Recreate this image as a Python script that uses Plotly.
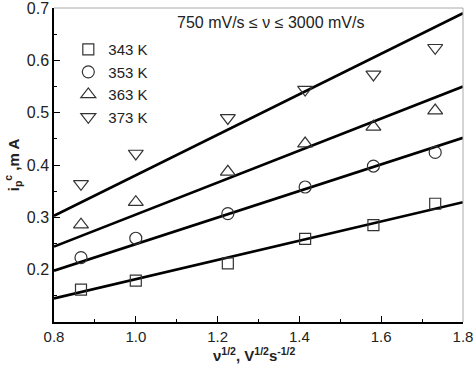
import plotly.graph_objects as go

# Scan rate square roots (V^1/2 s^-1/2)
x_vals = [0.866, 1.0, 1.225, 1.414, 1.581, 1.732]

labels = ["343 K", "353 K", "363 K", "373 K"]
y_343 = [0.162, 0.179, 0.212, 0.259, 0.285, 0.326]
y_353 = [0.223, 0.260, 0.307, 0.358, 0.398, 0.424]
y_363 = [0.286, 0.329, 0.387, 0.441, 0.473, 0.504]
y_373 = [0.364, 0.422, 0.490, 0.544, 0.573, 0.624]

# Fitted lines, values at x = 0.8 and x = 1.8
fit_x = [0.8, 1.8]
fit_343 = [0.145, 0.329]
fit_353 = [0.198, 0.452]
fit_363 = [0.244, 0.550]
fit_373 = [0.303, 0.690]

x_ticks = [0.8, 1.0, 1.2, 1.4, 1.6, 1.8]
y_ticks = [0.2, 0.3, 0.4, 0.5, 0.6, 0.7]

series = [y_343, y_353, y_363, y_373]
fits = [fit_343, fit_353, fit_363, fit_373]
symbols = ["square-open", "circle-open", "triangle-up-open", "triangle-down-open"]
sizes = [11, 12, 13, 13]

FONT = "Liberation Sans, Arial, sans-serif"
TXT = "#222222"

fig = go.Figure()
for f in fits:
    fig.add_trace(go.Scatter(x=fit_x, y=f, mode="lines",
                             line=dict(color="black", width=2.6),
                             showlegend=False, hoverinfo="skip"))
for lab, ys, sym, sz in zip(labels, series, symbols, sizes):
    fig.add_trace(go.Scatter(x=x_vals, y=ys, mode="markers", name=lab,
                             marker=dict(symbol=sym, size=sz, color="#333333",
                                         line=dict(color="#333333", width=1.2))))

fig.update_layout(
    width=474, height=372,
    margin=dict(l=54, r=11, t=8, b=50, autoexpand=False),
    paper_bgcolor="white", plot_bgcolor="white",
    font=dict(family=FONT, size=16, color=TXT),
    legend=dict(x=0.035, y=0.92, xanchor="left", yanchor="top",
                bgcolor="rgba(0,0,0,0)", font=dict(size=15, family=FONT, color=TXT),
                tracegroupgap=0, itemsizing="trace"),
    annotations=[
        dict(text="750 mV/s ≤ ν ≤ 3000 mV/s", x=0.53, y=0.953,
             xref="paper", yref="paper", xanchor="center", yanchor="middle",
             showarrow=False, font=dict(size=16, family=FONT, color=TXT)),
        dict(text="<b>ν<sup>1/2</sup>, V<sup>1/2</sup>s<sup>-1/2</sup></b>",
             x=0.49, y=-0.105, xref="paper", yref="paper",
             xanchor="center", yanchor="middle", showarrow=False,
             font=dict(size=15, family=FONT, color=TXT)),
    ],
    shapes=[
        dict(type="line", xref="paper", yref="paper", x0=0, x1=1, y0=1, y1=1,
             line=dict(color="#aaaaaa", width=1)),
        dict(type="line", xref="paper", yref="paper", x0=1, x1=1, y0=0, y1=1,
             line=dict(color="#aaaaaa", width=1)),
    ],
)

fig.update_xaxes(range=[0.8, 1.8], tickvals=x_ticks,
                 ticktext=[f"{v:.1f}" for v in x_ticks],
                 automargin=False, ticklabeloverflow="allow",
                 showgrid=False, zeroline=False, showline=True,
                 linecolor="black", linewidth=1.5,
                 ticks="inside", ticklen=6, tickwidth=1.2, tickcolor="black",
                 minor=dict(dtick=0.1, ticks="inside", ticklen=3, tickcolor="black"),
                 tickfont=dict(size=15, family=FONT, color=TXT))
fig.update_yaxes(range=[0.1, 0.7], tickvals=y_ticks,
                 ticktext=[f"{v:.1f}" for v in y_ticks],
                 automargin=False, ticklabeloverflow="allow",
                 showgrid=False, zeroline=False, showline=True,
                 linecolor="black", linewidth=1.5,
                 ticks="inside", ticklen=6, tickwidth=1.2, tickcolor="black",
                 minor=dict(dtick=0.05, ticks="inside", ticklen=3, tickcolor="black"),
                 tickfont=dict(size=16, family=FONT, color=TXT),
                 title=dict(text="<b>i<sub>p</sub><sup>c</sup> ,m A</b>",
                            font=dict(size=15, family=FONT, color=TXT), standoff=4))

fig.write_html("out.html", config={"displayModeBar": False},
               post_script="document.body.style.margin='0';")
